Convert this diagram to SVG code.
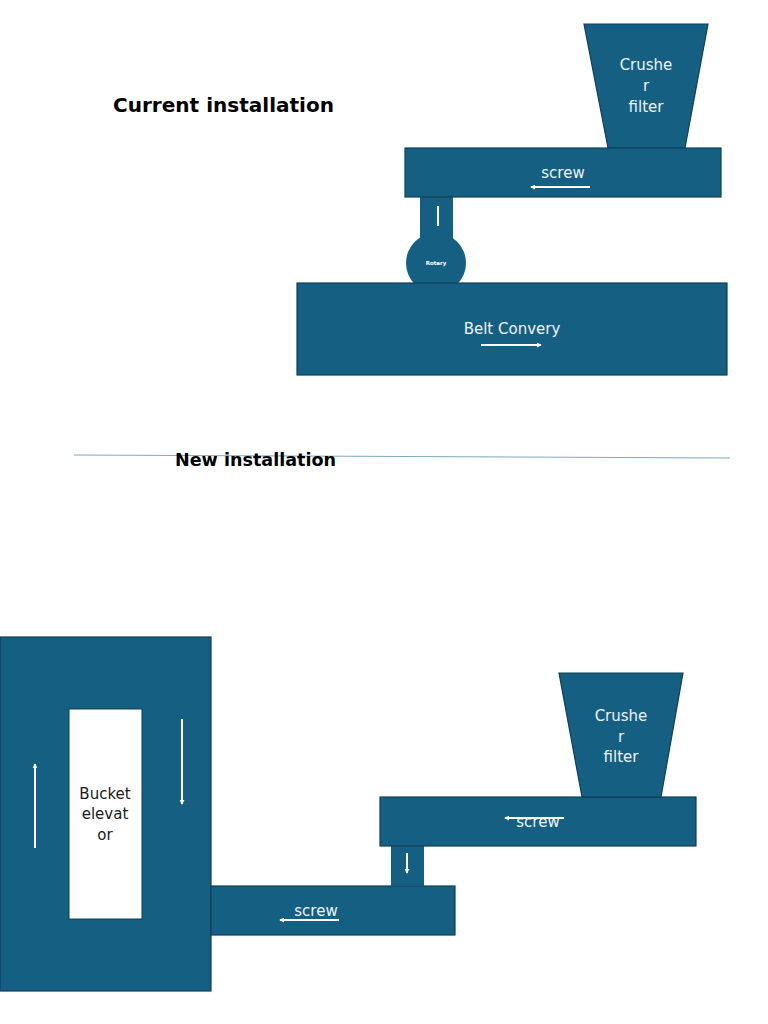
<svg xmlns="http://www.w3.org/2000/svg" width="768" height="1024" viewBox="0 0 768 1024">
<defs>
<style>
.b{fill:#155f82;stroke:#0f3f57;stroke-width:1.2}
.n{fill:#155f82;stroke:none}
.t{font-family:"DejaVu Sans",sans-serif;font-size:15px;fill:#eef3f6;text-anchor:middle}
.d{font-family:"DejaVu Sans",sans-serif;font-size:15px;fill:#1a1a1a;text-anchor:middle}
.h{font-family:"DejaVu Sans",sans-serif;font-weight:bold;fill:#000}
.a{stroke:#fff;stroke-width:2;fill:none}
</style>
<marker id="ah" viewBox="0 0 6 6" refX="5" refY="3" markerWidth="2.5" markerHeight="2.5" orient="auto">
<path d="M0,0 L6,3 L0,6 Z" fill="#fff"/>
</marker>
</defs>
<rect width="768" height="1024" fill="#fff"/>

<text class="h" x="113" y="112" font-size="19.5" textLength="221" lengthAdjust="spacingAndGlyphs">Current installation</text>
<line x1="74" y1="455" x2="730" y2="458" stroke="#5a95b3" stroke-width="1" opacity="0.8"/>
<text class="h" x="175" y="466" font-size="17.5" textLength="161" lengthAdjust="spacingAndGlyphs">New installation</text>

<g id="crusher-top">
<polygon class="b" points="584,24 708,24 685,148 608,148"/>
<text class="t" x="646" y="70">Crushe</text>
<text class="t" x="646" y="91">r</text>
<text class="t" x="646" y="112">filter</text>
</g>
<g id="chute-top">
<rect class="n" x="420" y="196" width="33" height="52"/>
</g>
<g id="rotary">
<circle class="n" cx="436" cy="263" r="30"/>
<text x="436" y="265" font-family="DejaVu Sans,sans-serif" font-size="5.5" font-weight="bold" fill="#fff" text-anchor="middle">Rotary</text>
</g>
<g id="screw-top">
<rect class="b" x="405" y="148" width="316" height="49"/>
<text class="t" x="563" y="178">screw</text>
</g>
<g id="belt">
<rect class="b" x="297" y="283" width="430" height="92"/>
<text class="t" x="512" y="334">Belt Convery</text>
</g>

<g id="bucket-elevator">
<rect class="b" x="0" y="637" width="211" height="354"/>
<rect x="69" y="709" width="73" height="210" fill="#fff" stroke="#0f3f57" stroke-width="1"/>
<text class="d" x="105" y="799">Bucket</text>
<text class="d" x="105" y="819">elevat</text>
<text class="d" x="105" y="840">or</text>
</g>
<g id="screw-low">
<rect class="b" x="211" y="886" width="244" height="49"/>
<text class="t" x="316" y="916">screw</text>
</g>
<g id="chute-new">
<rect class="n" x="391" y="845" width="33" height="41"/>
</g>
<g id="screw-new">
<rect class="b" x="380" y="797" width="316" height="49"/>
<text class="t" x="538" y="827">screw</text>
</g>
<g id="crusher-new">
<polygon class="b" points="559,673 683,673 661,797 582,797"/>
<text class="t" x="621" y="721">Crushe</text>
<text class="t" x="621" y="742">r</text>
<text class="t" x="621" y="762">filter</text>
</g>

<g id="connectors">
<line class="a" x1="590" y1="187" x2="531" y2="187" marker-end="url(#ah)"/>
<line class="a" x1="438" y1="206" x2="438" y2="226"/>
<line class="a" x1="481" y1="345" x2="541" y2="345" marker-end="url(#ah)"/>
<line class="a" x1="35" y1="848" x2="35" y2="764" marker-end="url(#ah)"/>
<line class="a" x1="182" y1="719" x2="182" y2="804" marker-end="url(#ah)"/>
<line class="a" x1="339" y1="920" x2="280" y2="920" marker-end="url(#ah)"/>
<line class="a" x1="407" y1="853" x2="407" y2="873" marker-end="url(#ah)"/>
<line class="a" x1="564" y1="818" x2="505" y2="818" marker-end="url(#ah)"/>
</g>
</svg>
